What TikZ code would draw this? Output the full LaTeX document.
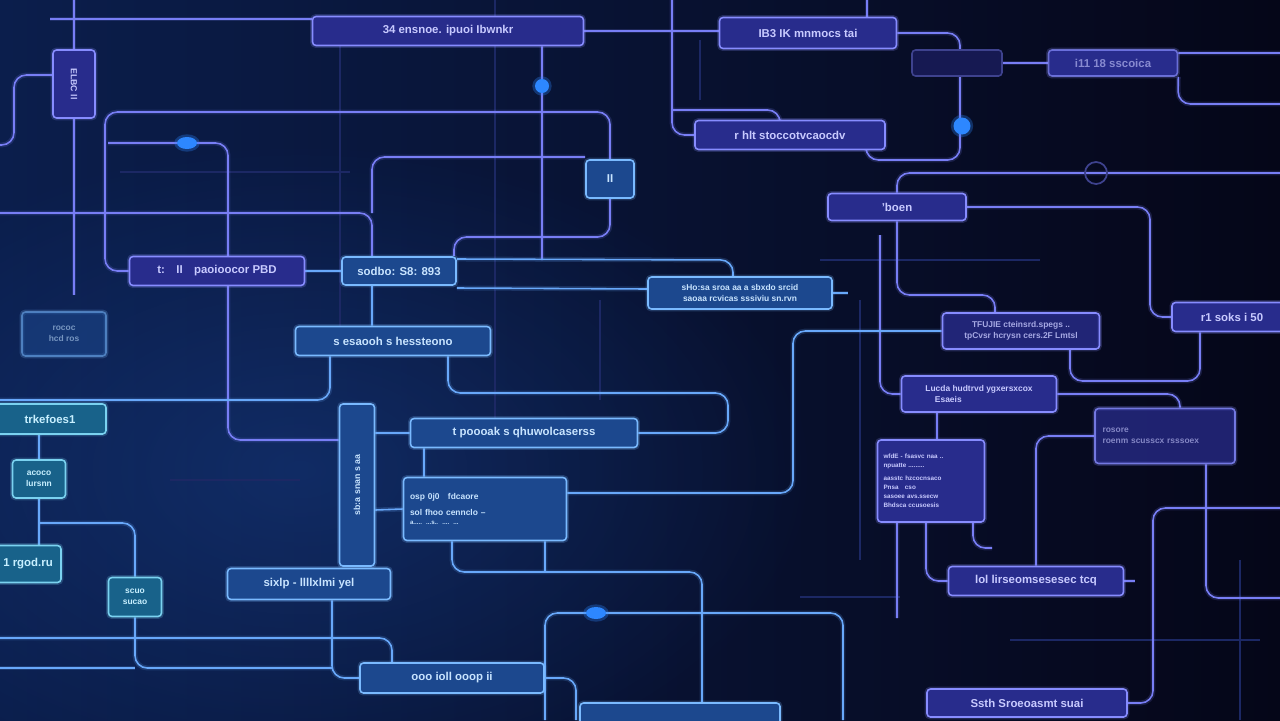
\documentclass[tikz,border=0pt]{standalone}
\usepackage{fontspec}
\setmainfont{Liberation Sans}
\usetikzlibrary{backgrounds,fadings,shapes.geometric}

\definecolor{bgdark}{RGB}{5,6,24}
\definecolor{bgblue}{RGB}{11,30,76}
\definecolor{glowc}{RGB}{30,80,170}
\definecolor{pfill}{RGB}{40,44,140}
\definecolor{pdraw}{RGB}{135,140,255}
\definecolor{ptext}{RGB}{200,202,255}
\definecolor{cfill}{RGB}{28,72,142}
\definecolor{cdraw}{RGB}{122,186,255}
\definecolor{ctext}{RGB}{200,228,255}
\definecolor{tfill}{RGB}{24,98,138}
\definecolor{tdraw}{RGB}{122,210,240}
\definecolor{ttext}{RGB}{200,240,255}
\definecolor{dfill}{RGB}{22,25,82}
\definecolor{ddraw}{RGB}{62,66,142}
\definecolor{dtext}{RGB}{105,108,175}
\definecolor{wirep}{RGB}{120,126,245}
\definecolor{wirec}{RGB}{104,168,250}
\definecolor{dotc}{RGB}{45,135,255}
\definecolor{faintc}{RGB}{28,40,100}

\tikzfading[name=glowfade, inner color=transparent!0, outer color=transparent!100]

\tikzset{
  panel/.style={rounded corners=2pt, line width=0.9pt, inner sep=1pt, align=center,
    font=\fontsize{6.5}{7.5}\selectfont\bfseries},
  pbox/.style={panel, draw=pdraw, fill=pfill, text=ptext,
    preaction={draw=pdraw, line width=2.8pt, draw opacity=0.22}},
  cbox/.style={panel, draw=cdraw, fill=cfill, text=ctext,
    preaction={draw=cdraw, line width=2.8pt, draw opacity=0.22}},
  tbox/.style={panel, draw=tdraw, fill=tfill, text=ttext,
    preaction={draw=tdraw, line width=2.8pt, draw opacity=0.22}},
  dbox/.style={panel, draw=ddraw, fill=dfill, text=dtext},
  sz/.style 2 args={minimum width=#1*0.02cm, minimum height=#2*0.02cm},
  small/.style={font=\fontsize{4.8}{6}\selectfont\bfseries},
  wire/.style={draw=#1, line width=0.9pt, rounded corners=7pt,
    preaction={draw=#1, line width=2.8pt, draw opacity=0.18}},
  wire/.default=wirep,
  cwire/.style={wire=wirec},
  faint/.style={draw=faintc, line width=0.6pt},
  dot/.style={fill=dotc, inner sep=0pt, preaction={draw=dotc, line width=3pt, draw opacity=0.3}}
}

\begin{document}
\begin{tikzpicture}[x=0.02cm, y=-0.02cm]
  \useasboundingbox (0,0) rectangle (1280,720);

  \node[pbox, sz={271}{29}] (bA) at (448,31) {34 ensnoe.  ipuoi  Ibwnkr};
  \node[pbox, sz={177}{31}] (bB) at (808,33) {IB3  IK  mnmocs  tai};
  \node[pbox, sz={42}{68}] (bC) at (74,84) {\rotatebox{-90}{\fontsize{5}{6}\selectfont ELBC ll}};
  \node[dbox, sz={90}{26}] (bD) at (957,63) {};
  \node[pbox, sz={129}{26}, draw opacity=0.7, text opacity=0.6] (bE) at (1113,63) {i11  18 sscoica};
  \node[pbox, sz={190}{29}] (bF) at (790,135) {r hlt  stoccotvcaocdv};
  \node[cbox, sz={48}{38}] (bG) at (610,179) {II};
  \node[pbox, sz={138}{27}] (bH) at (897,207) {'boen};
  \node[pbox, sz={175}{29}] (bI) at (217,271) {t:\quad II\quad paoioocor PBD};
  \node[cbox, sz={114}{28}] (bJ) at (399,271) {sodbo: S8: 893};
  \node[cbox, sz={184}{32}, small] (bK) at (740,293) {sHo:sa  sroa aa  a sbxdo srcid\\saoaa  rcvicas  sssiviu  sn.rvn};
  \node[cbox, sz={84}{44}, small, fill opacity=0.55, draw opacity=0.5, text opacity=0.55] (bL) at (64,334) {rococ\\hcd  ros};
  \node[cbox, sz={195}{29}] (bM) at (393,341) {s  esaooh  s  hessteono};
  \node[pbox, sz={157}{36}, small, fill opacity=0.8] (bN) at (1021,331) {TFUJIE  cteinsrd.spegs ..\\tpCvsr  hcrysn  cers.2F  Lmtsl};
  \node[pbox, sz={120}{29}] (bO) at (1232,317) {r1 soks i 50};
  \node[pbox, sz={155}{36}, small] (bP) at (979,394) {Lucda  hudtrvd  ygxersxcox\\Esaeis \quad\quad\quad\quad\quad\quad\quad\quad};
  \node[tbox, sz={112}{30}] (bQ) at (50,419) {trkefoes1};
  \node[cbox, sz={35}{162}] (bR) at (357,485) {\rotatebox{90}{\fontsize{5}{6}\selectfont sb:a  snan  s  aa}};
  \node[cbox, sz={227}{29}] (bS) at (524,433) {t poooak  s  qhuwolcaserss};
  \node[pbox, sz={140}{55}, small, fill opacity=0.75, draw opacity=0.8, text opacity=0.6, text width=2.5cm, align=left] (bT) at (1165,436) {rosore\\roenm  scusscx  rsssoex};
  \node[tbox, sz={53}{38}, small] (bU) at (39,479) {acoco\\lursnn};
  \node[cbox, sz={163}{63}, small, text width=3cm, align=left] (bV) at (485,509) {osp 0j0\quad fdcaore\\[3pt] sol fhoo  cennclo --\\[-1pt] {\fontsize{3.5}{4}\selectfont a..... ...s.. ....  ...}};
  \node[pbox, sz={107}{82}, font=\fontsize{3.6}{5.2}\selectfont\bfseries, text width=1.9cm, align=left] (bW) at (931,481) {wfdE - fsasvc  naa ..\\npuatte  .........\\[2pt] aasstc  hzcocnsaco\\Pnsa\quad cso\\sasoee  avs.ssecw\\Bhdsca  ccusoesis};
  \node[tbox, sz={66}{37}] (bX) at (28,564) {1 rgod.ru};
  \node[tbox, sz={53}{39}, small] (bY) at (135,597) {scuo\\sucao};
  \node[cbox, sz={163}{31}] (bZ) at (309,584) {sixlp -  llllxlmi  yel};
  \node[pbox, sz={175}{29}] (bAA) at (1036,581) {lol  lirseomsesesec  tcq};
  \node[cbox, sz={184}{30}] (bAB) at (452,678) {ooo ioll ooop ii};
  \node[cbox, sz={200}{30}] (bAC) at (680,718) {};
  \node[pbox, sz={200}{28}] (bAD) at (1027,703) {Ssth  Sroeoasmt  suai};

  \node[dot, circle, minimum size=14*0.02cm] (d1) at (542,86) {};
  \node[dot, ellipse, minimum width=20*0.02cm, minimum height=12*0.02cm] (d2) at (187,143) {};
  \node[dot, circle, minimum size=17*0.02cm] (d3) at (962,126) {};
  \node[dot, ellipse, minimum width=20*0.02cm, minimum height=12*0.02cm] (d4) at (596,613) {};
  \node[circle, draw=ddraw, line width=1pt, minimum size=22*0.02cm] (d5) at (1096,173) {};

  \coordinate (e1) at (74,0);
  \coordinate (e2) at (74,295);
  \coordinate (e3) at (0,145);
  \coordinate (e4) at (50,19);
  \coordinate (e5) at (867,0);
  \coordinate (e6) at (1280,53);
  \coordinate (e7) at (1280,104);
  \coordinate (e8) at (1280,173);
  \coordinate (e9) at (880,235);
  \coordinate (e10) at (672,0);
  \coordinate (e11) at (108,143);
  \coordinate (e12) at (0,213);
  \coordinate (e13) at (848,293);
  \coordinate (e14) at (0,400);
  \coordinate (e15) at (0,638);
  \coordinate (e16) at (576,720);
  \coordinate (e17) at (702,720);
  \coordinate (e18) at (545,720);
  \coordinate (e19) at (843,720);
  \coordinate (e20) at (897,618);
  \coordinate (e21) at (1135,581);
  \coordinate (e22) at (1280,598);
  \coordinate (e23) at (1280,508);
  \coordinate (e24) at (0,668);
  \coordinate (e25) at (992,548);
  \coordinate (j1) at (372,213);
  \coordinate (j2) at (39,523);
  \coordinate (j3) at (542,260);
  \coordinate (j4) at (332,668);
  \coordinate (j5) at (135,668);
  \coordinate (j6) at (545,572);
  \coordinate (j7) at (672,110);

  \begin{scope}[on background layer]
    \fill[bgdark] (0,0) rectangle (1280,720);
    \shade[left color=bgblue, right color=bgdark] (0,0) rectangle (1280,720);
    \fill[glowc, path fading=glowfade, opacity=0.35] (300,470) ellipse (520 and 330);

    \draw[faint] (340,40) -- (340,330);
    \draw[faint] (495,0) -- (495,420);
    \draw[faint] (120,172) -- (350,172);
    \draw[faint] (820,260) -- (1040,260);
    \draw[faint] (170,480) -- (300,480);
    \draw[faint] (800,597) -- (900,597);
    \draw[faint] (1240,560) -- (1240,720);
    \draw[faint] (600,300) -- (600,400);
    \draw[faint] (860,300) -- (860,560);
    \draw[faint] (1010,640) -- (1260,640);
    \draw[faint] (700,40) -- (700,100);

    \draw[wire] (e1) -- (bC);
    \draw[wire] (bC) -- (e2);
    \draw[wire] ([yshift=0.18cm]bC.west) -- (14,75) -- (14,145) -- (e3);
    \draw[wire] (e4) -- (e4 -| bA.west);
    \draw[wire] (bA.east) -- (bA.east -| bB.west);
    \draw[wire] (e5) -- (e5 |- bB.north);
    \draw[wire] (bB.east) -- (960,33) -- (960,160) -- (866,160) -- ([xshift=1.52cm]bF.south);
    \draw[wire] (bD) -- (bE);
    \draw[wire] ([yshift=0.2cm]bE.east) -- (e6);
    \draw[wire] (bE.south east) -- (1178,104) -- (e7);
    \draw[wire] (bH.north) -- (897,173) -- (e8);
    \draw[wire] (bH.east) -- (1150,207) -- (1150,317) -- (bO.west);
    \draw[wire] (bH.south) -- (897,295) -- (995,295) -- ([xshift=-0.52cm]bN.north);
    \draw[wire] (e9) -- (880,394) -- (bP.west);
    \draw[wire] (e10) -- (672,135) -- (bF.west);
    \draw[wire] (j7) -- (780,110) -- ([xshift=-0.2cm]bF.north);
    \draw[wire] (bI.west) -- (105,271) -- (105,112) -- (610,112) -- (bG.north);
    \draw[wire] (e11) -- (228,143) -- (228,440) -- ([yshift=0.9cm]bR.west);
    \draw[wire] (e12) -- (372,213) -- ([xshift=-0.54cm]bJ.north);
    \draw[wire] ([yshift=0.44cm]bG.west) -- (372,157) -- (j1);
    \draw[wire] (bG.south) -- (610,237) -- (454,237) -- ([xshift=1.1cm]bJ.north);
    \draw[wire] ([xshift=1.88cm]bA.south) -- (j3);
    \draw[cwire] (bI.east) -- (bI.east -| bJ.west);
    \draw[cwire] ([xshift=-0.54cm]bJ.south) -- ([xshift=-0.42cm]bM.north);
    \draw[cwire] ([yshift=0.24cm]bJ.east) -- (733,260) -- ([xshift=-0.14cm]bK.north);
    \draw[cwire] ([yshift=-0.34cm]bJ.east) -- ([yshift=0.08cm]bK.west);
    \draw[cwire] (bK.east) -- (e13);
    \draw[cwire] ([xshift=1.1cm]bM.south) -- (448,393) -- (728,393) -- (728,433) -- (bS.east);
    \draw[cwire] (e14) -- (330,400) -- ([xshift=-1.26cm]bM.south);
    \draw[cwire] ([xshift=-0.22cm]bQ.south) -- (bU.north);
    \draw[cwire] (bU.south) -- (bU.south |- bX.north);
    \draw[cwire] (j2) -- (135,523) -- (bY.north);
    \draw[cwire] (bY.south) -- (j5) -- (j4);
    \draw[cwire] (e24) -- (j5);
    \draw[cwire] ([xshift=0.46cm]bZ.south) -- (332,678) -- (bAB.west);
    \draw[cwire] (e15) -- (392,638) -- ([xshift=-1.2cm]bAB.north);
    \draw[cwire] (bAB.east) -- (576,678) -- (e16);
    \draw[cwire] (bS.west) -- ([yshift=1.04cm]bR.east);
    \draw[cwire] ([yshift=-0.5cm]bR.east) -- (bV.west);
    \draw[cwire] ([xshift=-2cm]bS.south) -- ([xshift=-1.22cm]bV.north);
    \draw[cwire] ([yshift=0.32cm]bV.east) -- (793,493) -- (793,331) -- (bN.west);
    \draw[cwire] ([xshift=-0.66cm]bV.south) -- (452,572) -- (702,572) -- (e17);
    \draw[cwire] ([xshift=1.2cm]bV.south) -- (j6);
    \draw[cwire] (e18) -- (545,613) -- (843,613) -- (e19);
    \draw[wire] ([xshift=0.12cm]bW.north) -- ([xshift=-0.84cm]bP.south);
    \draw[wire] ([xshift=-0.68cm]bW.south) -- (e20);
    \draw[wire] ([xshift=-0.1cm]bW.south) -- (926,581) -- (bAA.west);
    \draw[wire] ([xshift=0.84cm]bW.south) -- (973,548) -- (e25);
    \draw[wire] (bAA.north) -- (1036,436) -- (bT.west);
    \draw[wire] (bAA.east) -- (e21);
    \draw[wire] ([xshift=0.82cm]bT.south) -- (1206,598) -- (e22);
    \draw[wire] (e23) -- (1153,508) -- (1153,703) -- (bAD.east);
    \draw[wire] (bP.east) -- (1180,394) -- ([xshift=0.3cm]bT.north);
    \draw[wire] ([xshift=0.98cm]bN.south) -- (1070,381) -- (1200,381) -- ([xshift=-0.64cm]bO.south);
  \end{scope}
\end{tikzpicture}
\end{document}
